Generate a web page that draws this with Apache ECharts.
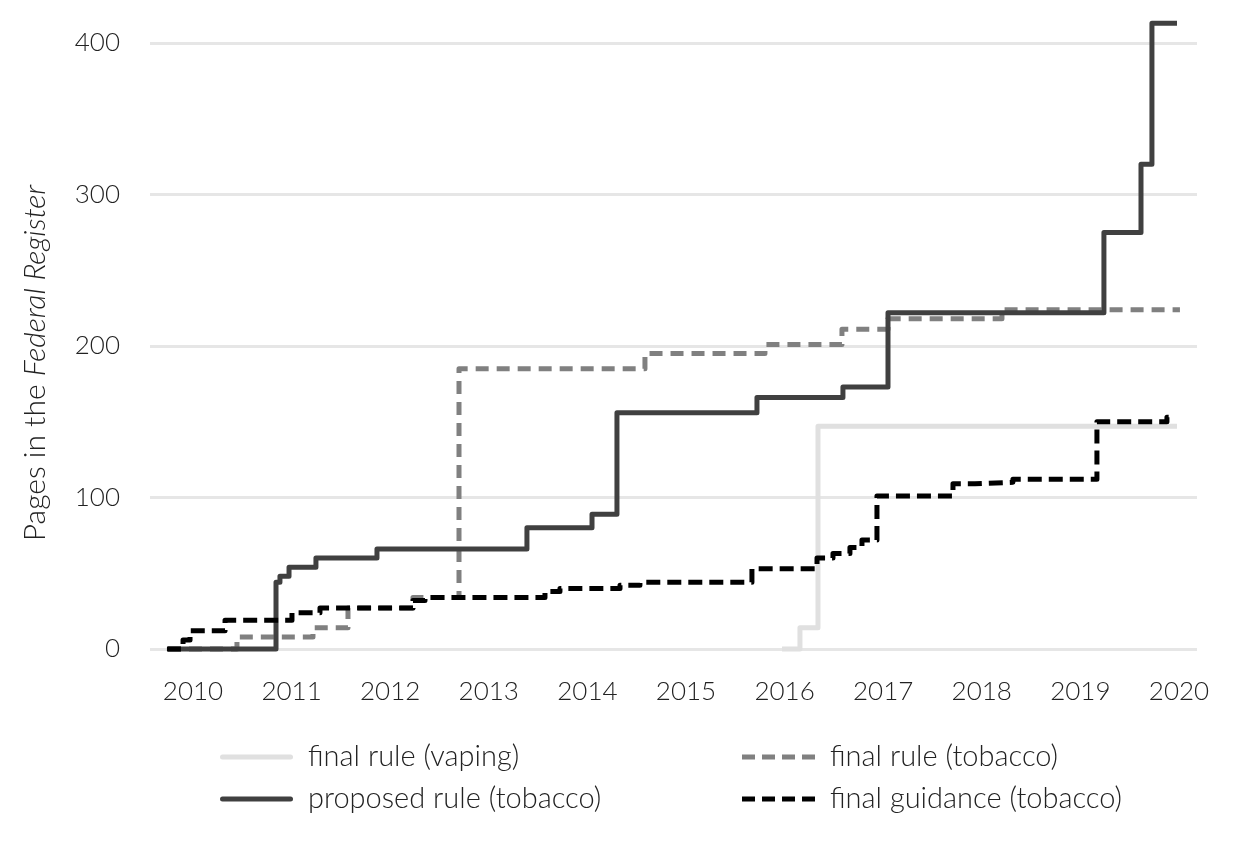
<!DOCTYPE html>
<html>
<head>
<meta charset="utf-8">
<script src="https://cdn.jsdelivr.net/npm/echarts@6/dist/echarts.min.js"></script>
<style>
html,body{margin:0;padding:0;background:#fff;}
#chart{width:1242px;height:844px;}
</style>
</head>
<body>
<div id="chart"></div>
<script>
// Year ticks shown on the x axis
const yearTicks = [2010, 2011, 2012, 2013, 2014, 2015, 2016, 2017, 2018, 2019, 2020];
const yTicks = [0, 100, 200, 300, 400];

// Each point: [decimal year when the level starts, cumulative pages]
const finalRuleVaping = [
  [2015.974, 0], [2016.156, 14], [2016.339, 147], [2019.980, 147]
];
const finalRuleTobacco = [
  [2009.746, 0], [2010.446, 8], [2011.217, 14], [2011.572, 27], [2012.231, 34],
  [2012.698, 185], [2014.584, 195], [2015.801, 201], [2016.582, 211],
  [2017.049, 218], [2018.205, 224], [2020.010, 224]
];
const proposedRuleTobacco = [
  [2009.746, 0], [2010.842, 44], [2010.882, 48], [2010.974, 54], [2011.247, 60],
  [2011.866, 66], [2013.387, 80], [2014.047, 89], [2014.300, 156], [2015.720, 166],
  [2016.592, 173], [2017.049, 222], [2019.239, 275], [2019.615, 320],
  [2019.726, 413], [2019.980, 413]
];
const finalGuidanceTobacco = [
  [2009.736, 0], [2009.899, 6], [2009.970, 12], [2010.325, 19], [2011.004, 24],
  [2011.288, 27], [2012.231, 32], [2012.353, 34], [2013.570, 38], [2013.722, 40],
  [2014.331, 42], [2014.533, 44], [2015.669, 53], [2016.329, 60], [2016.491, 63],
  [2016.663, 67], [2016.785, 72], [2016.937, 101], [2017.708, 109], [2017.931, 110],
  [2018.316, 112], [2019.168, 150], [2019.878, 153], [2019.929, 153]
];

const FONT = 'Lato, "Noto Sans", sans-serif';
const chart = echarts.init(document.getElementById('chart'));

function stepSeries(name, data, color, type, z) {
  return {
    name: name,
    type: 'line',
    step: 'end',
    data: data,
    showSymbol: false,
    symbol: 'none',
    clip: false,
    z: z,
    lineStyle: { color: color, width: 5, type: type, cap: 'butt', join: 'round' },
    itemStyle: { color: color },
    emphasis: { disabled: true },
    animation: false
  };
}

const DASH_ICON = 'path://M0,0h13v5h-13zM20,0h13v5h-13zM40,0h13v5h-13zM60,0h13v5h-13z';
const SOLID_ICON = 'path://M2.5,0h68a2.5,2.5,0,0,1,0,5h-68a2.5,2.5,0,0,1,0,-5z';

const legendText = { fontFamily: FONT, fontSize: 29, fontWeight: 300, color: '#222', lineHeight: 30, padding: [0, 0, 0, 10] };

chart.setOption({
  animation: false,
  backgroundColor: '#ffffff',
  grid: { left: 150, right: 45, top: 43, bottom: 195, containLabel: false },
  xAxis: {
    type: 'value',
    min: 2009.564,
    max: 2020.183,
    axisLine: { show: false },
    axisTick: { show: false },
    splitLine: { show: false },
    axisLabel: {
      customValues: yearTicks,
      formatter: v => String(Math.round(v)),
      fontFamily: FONT, fontSize: 26, fontWeight: 300, color: '#222', margin: 30
    }
  },
  yAxis: {
    type: 'value',
    min: 0,
    max: 400,
    interval: 100,
    axisLine: { show: false },
    axisTick: { show: false },
    splitLine: { show: true, lineStyle: { color: '#e6e6e6', width: 3 } },
    axisLabel: { fontFamily: FONT, fontSize: 26, fontWeight: 300, color: '#222', margin: 30 }
  },
  graphic: [{
    type: 'text',
    x: 35, y: 363,
    rotation: Math.PI / 2,
    style: {
      text: '{a|Pages in the }{b|Federal Register}',
      align: 'center',
      verticalAlign: 'middle',
      rich: {
        a: { fontFamily: FONT, fontSize: 30, fontWeight: 300, fill: '#222' },
        b: { fontFamily: FONT, fontSize: 30, fontWeight: 300, fontStyle: 'italic', fill: '#222' }
      }
    }
  }],
  legend: [{
    data: [
      { name: 'final rule (vaping)', icon: SOLID_ICON },
      { name: 'proposed rule (tobacco)', icon: SOLID_ICON }
    ],
    orient: 'vertical', left: 220, top: 742, padding: 0,
    itemWidth: 73, itemHeight: 5, itemGap: 12,
    textStyle: legendText, selectedMode: false
  }, {
    data: [
      { name: 'final rule (tobacco)', icon: DASH_ICON },
      { name: 'final guidance (tobacco)', icon: DASH_ICON }
    ],
    orient: 'vertical', left: 742, top: 742, padding: 0,
    itemWidth: 73, itemHeight: 5, itemGap: 12,
    textStyle: legendText, selectedMode: false
  }],
  series: [
    stepSeries('final rule (vaping)', finalRuleVaping, '#e0e0e0', 'solid', 1),
    stepSeries('final rule (tobacco)', finalRuleTobacco, '#808080', [13, 8], 2),
    stepSeries('proposed rule (tobacco)', proposedRuleTobacco, '#404040', 'solid', 3),
    stepSeries('final guidance (tobacco)', finalGuidanceTobacco, '#000000', [14, 7], 4)
  ]
});
</script>
</body>
</html>
